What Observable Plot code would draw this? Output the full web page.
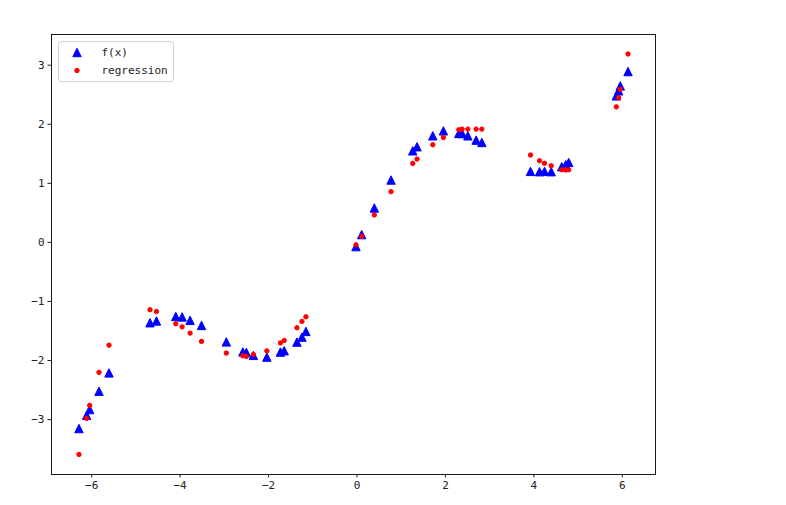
<!DOCTYPE html>
<html>
<head>
<meta charset="utf-8">
<script src="https://cdn.jsdelivr.net/npm/d3@7"></script>
<script src="https://cdn.jsdelivr.net/npm/@observablehq/plot@0.6"></script>
<style>
  html, body { margin: 0; padding: 0; background: #fff; }
  #chart { width: 786px; height: 505px; }
</style>
</head>
<body>
<div id="chart"></div>
<script>
// x positions shared by both series
const xVals = [
  -6.287, -6.113, -6.045, -5.834, -5.608,
  -4.680, -4.535, -4.098, -3.955, -3.774, -3.516,
  -2.955, -2.581, -2.502, -2.343, -2.038,
  -1.732, -1.646, -1.358, -1.245, -1.155,
  -0.023, 0.106, 0.392, 0.770, 1.261, 1.358, 1.714, 1.954,
  2.302, 2.377, 2.506, 2.694, 2.823,
  3.923, 4.127, 4.240, 4.392, 4.630, 4.720, 4.788,
  5.864, 5.916, 5.954, 6.129
];
// f(x) values (blue triangles)
const fxVals = [
  -3.152, -2.927, -2.830, -2.520, -2.210,
  -1.360, -1.330, -1.254, -1.262, -1.320, -1.406,
  -1.685, -1.854, -1.862, -1.913, -1.942,
  -1.857, -1.834, -1.688, -1.604, -1.508,
  -0.071, 0.132, 0.583, 1.056, 1.551, 1.619, 1.805, 1.889,
  1.844, 1.844, 1.805, 1.732, 1.692,
  1.202, 1.197, 1.202, 1.197, 1.281, 1.315, 1.354,
  2.481, 2.566, 2.650, 2.892
];
// regression predictions (red dots)
const regVals = [
  -3.590, -2.980, -2.760, -2.200, -1.740,
  -1.140, -1.170, -1.377, -1.430, -1.536, -1.676,
  -1.874, -1.920, -1.930, -1.896, -1.837,
  -1.702, -1.660, -1.445, -1.338, -1.260,
  -0.042, 0.103, 0.465, 0.859, 1.337, 1.411, 1.653, 1.776,
  1.906, 1.918, 1.918, 1.918, 1.918,
  1.479, 1.382, 1.340, 1.298, 1.230, 1.225, 1.230,
  2.295, 2.452, 2.594, 3.190
];
const xTicks = [-6, -4, -2, 0, 2, 4, 6];
const yTicks = [-3, -2, -1, 0, 1, 2, 3];
const legendLabels = ["f(x)", "regression"];

const fxData = xVals.map((x, i) => ({x, y: fxVals[i]}));
const regData = xVals.map((x, i) => ({x, y: regVals[i]}));

// matplotlib-like "^" marker (width == height)
const mplTriangle = {
  draw(ctx, size) {
    const h = Math.sqrt(size / Math.PI);
    ctx.moveTo(0, -h);
    ctx.lineTo(h, h);
    ctx.lineTo(-h, h);
    ctx.closePath();
  }
};

const fmt = d => (d < 0 ? "\u2212" + Math.abs(d) : String(d));
const FONT = "DejaVu Sans Mono";

const plot = Plot.plot({
  width: 786,
  height: 505,
  marginLeft: 51,
  marginRight: 131,
  marginTop: 34,
  marginBottom: 31,
  style: {fontFamily: FONT, fontSize: "11px", color: "#222", background: "#fff"},
  x: {domain: [-6.908, 6.75]},
  y: {domain: [-3.93, 3.52]},
  marks: [
    Plot.axisX({ticks: xTicks, tickFormat: fmt, tickSize: 3.5, tickPadding: 3.5, label: null, fontSize: 11}),
    Plot.axisY({ticks: yTicks, tickFormat: fmt, tickSize: 3.5, tickPadding: 3.5, label: null, fontSize: 11}),
    Plot.dot(fxData, {x: "x", y: "y", symbol: mplTriangle, r: 4.2, fill: "#0000ff", stroke: "#0000ff", strokeWidth: 1}),
    Plot.dot(regData, {x: "x", y: "y", r: 2.2, fill: "#ff0000", stroke: "#ff0000", strokeWidth: 1}),
    Plot.frame({stroke: "#000", strokeWidth: 0.9})
  ]
});

document.getElementById("chart").appendChild(plot);

// legend (upper-left, matplotlib style)
const svg = d3.select(plot);
const lg = svg.append("g")
  .attr("font-family", FONT).attr("font-size", 11)
  .attr("text-anchor", "start");
lg.append("rect")
  .attr("x", 58.5).attr("y", 41.5).attr("width", 115).attr("height", 40)
  .attr("rx", 3).attr("ry", 3)
  .attr("fill", "#fff").attr("fill-opacity", 0.8)
  .attr("stroke", "#d0d0d0").attr("stroke-width", 1);
const h = 4.2;
lg.append("path")
  .attr("d", `M${77},${52.5 - h}L${77 + h},${52.5 + h}L${77 - h},${52.5 + h}Z`)
  .attr("fill", "#0000ff").attr("stroke", "#0000ff").attr("stroke-width", 1);
lg.append("circle").attr("cx", 77).attr("cy", 70.5).attr("r", 2.2)
  .attr("fill", "#ff0000").attr("stroke", "#ff0000").attr("stroke-width", 1);
lg.append("text").attr("x", 101.5).attr("y", 52.5).attr("dy", "0.35em").attr("fill", "#222").text(legendLabels[0]);
lg.append("text").attr("x", 101.5).attr("y", 70.5).attr("dy", "0.35em").attr("fill", "#222").text(legendLabels[1]);
</script>
</body>
</html>
